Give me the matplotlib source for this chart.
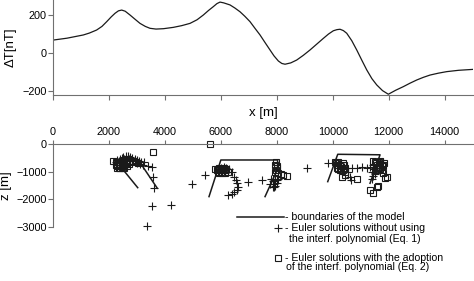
import numpy as np
import matplotlib
matplotlib.use("Agg")
import matplotlib.pyplot as plt

plt.rcParams['font.family'] = ['Liberation Sans', 'DejaVu Sans']

# magnetic anomaly along the profile
anom_x = [0, 500, 1085, 1300, 1560, 1750, 1920, 2080, 2217, 2340, 2456, 2580, 2753,
          2930, 3110, 3300, 3468, 3683, 3950, 4302, 4600, 4898, 5150, 5374, 5560,
          5731, 5860, 5970, 6100, 6328, 6500, 6686, 6860, 7043, 7220, 7401, 7580,
          7758, 7900, 8056, 8180, 8295, 8500, 8712, 8950, 9188, 9430, 9664, 9850,
          10021, 10150, 10261, 10380, 10500, 10680, 10858, 11040, 11216, 11400,
          11573, 11780, 11988, 12250, 12524, 12760, 13003, 13240, 13479, 13780,
          14076, 14500, 15028]
anom_t = [68, 78, 95, 105, 121, 140, 165, 190, 209, 222, 226, 220, 200,
          178, 156, 140, 130, 126, 128, 135, 144, 156, 175, 200, 224,
          244, 260, 268, 264, 253, 237, 217, 193, 165, 130, 95, 55,
          16, -15, -42, -55, -59, -52, -37, -12, 16, 47, 77, 100,
          117, 123, 125, 118, 104, 65, 16, -38, -89, -135,
          -168, -198, -217, -196, -177, -159, -142, -128, -116, -106,
          -98, -91, -86]

# model boundaries (NaN separates the bodies)
bnd_x = [3028, 2450, 2550, 3050, 3729, np.nan,
         5577, 6000, 8030, 8030, 7580, np.nan,
         9821, 10179, 11691, 11334]
bnd_z = [-1578, -860, -600, -578, -1600, np.nan,
         -1902, -578, -578, -900, -1902, np.nan,
         -1361, -372, -390, -1419]

# Euler solutions without the interf. polynomial (Eq. 1)
plus_x = [2250, 2300, 2380, 2450, 2520, 2600, 2680, 2760, 2840, 2920, 3000, 3080, 3160,
          3265, 3386, 3529, 3586, 3622, 3529, 4208, 3350,
          2400, 2550, 2700, 2850, 3000, 3100, 3200,
          4959, 5434, 5900, 6000, 6100, 6200, 6300, 6388, 6483, 6531, 6566, 6602, 6566,
          6483, 6388, 6268, 6983, 7462, 7800, 7850, 7900, 7950, 8000, 7850, 8050,
          7750, 7900, 7950, 8000, 7850,
          9071, 9843, 10100, 10200, 10300, 10400, 10500, 10560, 10619, 10655, 10679,
          10858, 11037, 11216, 11335, 11450, 11500, 11550, 11500, 11450, 11400, 11600,
          11700, 11800, 11420, 11520, 11480]
plus_z = [-650, -580, -530, -500, -470, -450, -450, -470, -500, -540, -580, -620, -660,
          -640, -794, -819, -1181, -1578, -2227, -2202, -2960,
          -600, -560, -560, -600, -680, -740, -760,
          -1450, -1119, -900, -850, -830, -850, -900, -1000, -1180, -1300, -1420, -1540, -1660,
          -1745, -1817, -1841, -1360, -1300, -1250, -1350, -1450, -1300, -1400, -1550, -1250,
          -1450, -1550, -1500, -1300, -1250,
          -877, -675, -650, -700, -750, -820, -880, -1000, -1180, -1300, -880,
          -860, -840, -860, -820, -750, -850, -950, -1050, -1150, -1250, -800,
          -700, -650, -1000, -1100, -900]

# Euler solutions with the interf. polynomial (Eq. 2)
sq_x = [2156, 2250, 2300, 2350, 2400, 2450, 2500, 2550, 2600, 2650, 2700, 2750, 2400,
        2300, 2500, 2850, 2950, 3050, 3564, 5613,
        2250, 2350, 2450, 2550, 2650, 2350, 2450, 2550, 2300, 2600, 2700, 2500, 2400,
        5800, 5900, 6000, 6050, 6150, 6250, 5950, 6100, 5850, 5950, 6050, 6150, 6200,
        5900, 6000,
        7950, 8000, 7980, 8050, 8150, 8235, 8355, 7980, 8020, 7950,
        10082, 10150, 10250, 10350, 10450, 10200, 10261, 10440, 10321, 10440, 10858,
        10100, 10200, 10300, 10400, 10150, 10350,
        11450, 11550, 11650, 11750, 11850, 11550, 11700, 11810, 11930, 11870, 11573,
        11334, 11452, 11630, 11500, 11600, 11700, 11800, 11650, 11750]
sq_z = [-614, -650, -720, -800, -650, -760, -850, -700, -620, -780, -650, -600, -870,
        -850, -600, -620, -660, -700, -300, 0,
        -750, -650, -700, -780, -680, -870, -820, -850, -780, -720, -720, -760, -720,
        -900, -1000, -950, -1050, -950, -1000, -850, -880, -950, -1050, -900, -1050, -900,
        -920, -1020,
        -750, -850, -950, -1050, -1100, -1119, -1144, -650, -800, -1000,
        -650, -750, -800, -700, -850, -900, -938, -1000, -1180, -1119, -1275,
        -700, -650, -850, -750, -850, -950,
        -600, -700, -650, -750, -700, -850, -900, -1058, -1180, -1240, -1540,
        -1660, -1780, -1516, -650, -750, -600, -800, -850, -950]

W, H = 474, 281
ink = '#1a1a1a'
axc = '#707070'

fig = plt.figure(figsize=(W / 100, H / 100), dpi=100)

# top panel: anomaly
ax_t = fig.add_axes([53 / W, 1 - 95 / H, (472.6 - 53) / W, 95 / H])
ax_t.plot(anom_x, anom_t, color=ink, lw=0.9)
ax_t.set_xlim(0, 15000)
ax_t.set_ylim(-221, 279)
ax_t.set_yticks([-200, 0, 200])
ax_t.set_xticks(range(0, 15000, 2000))
ax_t.tick_params(axis='x', labelbottom=False, length=3.5, color=axc)
ax_t.tick_params(axis='y', labelsize=7.8, length=3.5, pad=1, color=axc)
for s in ['top', 'right']:
    ax_t.spines[s].set_visible(False)
for s in ['left', 'bottom']:
    ax_t.spines[s].set_color(axc)
ax_t.set_ylabel('ΔT[nT]', fontsize=9.5)
ax_t.yaxis.set_label_coords(-0.086, 0.5)
fig.text(263 / W, 1 - 113 / H, 'x [m]', fontsize=9.5, ha='center', va='center')

# bottom panel: Euler solutions
ax_b = fig.add_axes([53 / W, 1 - 227 / H, (472.6 - 53) / W, 83 / H])
ax_b.plot(bnd_x, bnd_z, color=ink, lw=1.1, clip_on=False)
ax_b.plot(plus_x, plus_z, '+', color=ink, ms=5.5, mew=0.8, clip_on=False)
ax_b.plot(sq_x, sq_z, 's', mfc='none', mec=ink, ms=4.2, mew=0.8, clip_on=False)
ax_b.set_xlim(0, 15000)
ax_b.set_ylim(-3000, 0)
ax_b.set_xticks(range(0, 15000, 2000))
ax_b.set_yticks([0, -1000, -2000, -3000])
ax_b.xaxis.tick_top()
ax_b.tick_params(axis='x', labelsize=7.8, length=3, pad=2, color=axc)
ax_b.tick_params(axis='y', labelsize=7.8, length=3.5, pad=1, color=axc)
for s in ['bottom', 'right']:
    ax_b.spines[s].set_visible(False)
for s in ['left', 'top']:
    ax_b.spines[s].set_color(axc)
ax_b.set_ylabel('z [m]', fontsize=9.5)
ax_b.yaxis.set_label_coords(-0.098, 0.5)

# legend drawn in pixel space
ax_l = fig.add_axes([0, 0, 1, 1])
ax_l.set_xlim(0, W)
ax_l.set_ylim(H, 0)
ax_l.axis('off')
ax_l.plot([236.7, 284], [217.3, 217.3], color=ink, lw=1.1)
ax_l.plot([278.3], [228.3], '+', color=ink, ms=5.5, mew=0.8)
ax_l.plot([278.3], [257.7], 's', mfc='none', mec=ink, ms=4.2, mew=0.8)
fs = 7.6
ax_l.text(285, 217.3, '- boundaries of the model', fontsize=fs, va='center')
ax_l.text(285, 228.3, '- Euler solutions without using', fontsize=fs, va='center')
ax_l.text(289, 239.3, 'the interf. polynomial (Eq. 1)', fontsize=fs, va='center')
ax_l.text(285, 257.7, '- Euler solutions with the adoption', fontsize=fs, va='center')
ax_l.text(286, 267.5, 'of the interf. polynomial (Eq. 2)', fontsize=fs, va='center')

fig.savefig('out.png', dpi=100)
